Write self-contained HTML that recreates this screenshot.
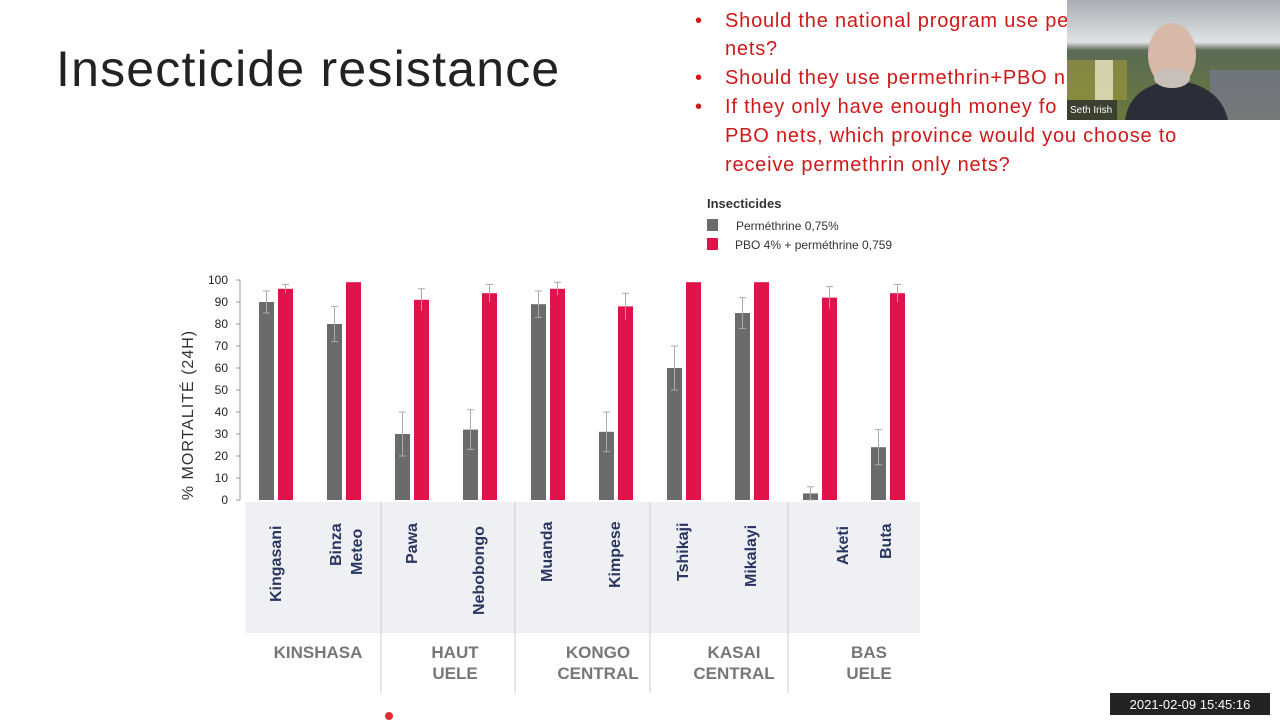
<!DOCTYPE html>
<html><head><meta charset="utf-8"><style>
html,body{margin:0;padding:0;background:#fff;width:1280px;height:720px;overflow:hidden}
svg{display:block}
</style></head><body>
<svg width="1280" height="720" xmlns="http://www.w3.org/2000/svg" font-family="Liberation Sans, sans-serif">
<rect width="1280" height="720" fill="#fff"/>
<text x="56" y="86" font-size="50" fill="#222" letter-spacing="1.2">Insecticide resistance</text>
<g fill="#d01818" font-size="20" letter-spacing="0.8">
<text x="695" y="27">•</text><text x="725" y="27">Should the national program use pe</text>
<text x="725" y="55">nets?</text>
<text x="695" y="84">•</text><text x="725" y="84">Should they use permethrin+PBO n</text>
<text x="695" y="113">•</text><text x="725" y="113">If they only have enough money fo</text>
<text x="725" y="142">PBO nets, which province would you choose to</text>
<text x="725" y="171">receive permethrin only nets?</text>
</g>
<!-- webcam -->
<defs><linearGradient id="sky" x1="0" y1="0" x2="0" y2="1"><stop offset="0" stop-color="#a8aeb4"/><stop offset="0.35" stop-color="#dfe2e4"/><stop offset="0.42" stop-color="#5b6b55"/><stop offset="1" stop-color="#6a7a3c"/></linearGradient></defs>
<rect x="1067" y="0" width="213" height="120" fill="url(#sky)"/>
<rect x="1067" y="60" width="60" height="40" fill="#a09a3a" opacity="0.6"/>
<rect x="1095" y="60" width="18" height="40" fill="#e8e4c8" opacity="0.8"/>
<rect x="1210" y="70" width="70" height="50" fill="#7a7aa0" opacity="0.6"/>
<path d="M1125 120 Q1130 85 1175 80 Q1220 85 1228 120Z" fill="#2a2e38"/>
<ellipse cx="1172" cy="55" rx="24" ry="32" fill="#d8b8a8"/>
<ellipse cx="1172" cy="78" rx="18" ry="10" fill="#c8c0b8"/>
<rect x="1067" y="100" width="50" height="20" fill="#2a2a2a" opacity="0.7"/>
<text x="1070" y="113" font-size="10" fill="#fff">Seth Irish</text>
<!-- legend -->
<text x="707" y="208" font-size="13" font-weight="bold" fill="#333">Insecticides</text>
<rect x="707" y="219" width="11" height="12" fill="#6b6b6b"/>
<text x="736" y="230" font-size="12" fill="#333">Perméthrine 0,75%</text>
<rect x="707" y="238" width="11" height="12" fill="#e0134a"/>
<text x="735" y="249" font-size="12" fill="#333">PBO 4% + perméthrine 0,759</text>
<!-- axis -->
<g font-size="12" fill="#222" text-anchor="end">
<text x="228" y="504">0</text><text x="228" y="482">10</text><text x="228" y="460">20</text><text x="228" y="438">30</text><text x="228" y="416">40</text><text x="228" y="394">50</text><text x="228" y="372">60</text><text x="228" y="350">70</text><text x="228" y="328">80</text><text x="228" y="306">90</text><text x="228" y="284">100</text>
</g>
<g stroke="#999" stroke-width="1"><line x1="240" y1="280" x2="240" y2="500"/>
<line x1="236" y1="280" x2="240" y2="280"/><line x1="236" y1="302" x2="240" y2="302"/><line x1="236" y1="324" x2="240" y2="324"/><line x1="236" y1="346" x2="240" y2="346"/><line x1="236" y1="368" x2="240" y2="368"/><line x1="236" y1="390" x2="240" y2="390"/><line x1="236" y1="412" x2="240" y2="412"/><line x1="236" y1="434" x2="240" y2="434"/><line x1="236" y1="456" x2="240" y2="456"/><line x1="236" y1="478" x2="240" y2="478"/><line x1="236" y1="500" x2="240" y2="500"/></g>
<text transform="translate(193,415) rotate(-90)" font-size="16" fill="#333" text-anchor="middle" letter-spacing="1">% MORTALITÉ (24H)</text>
<rect x="245" y="502" width="675" height="131" fill="#eef0f4"/>
<g stroke="#ccc"><line x1="381" y1="502" x2="381" y2="693"/><line x1="515" y1="502" x2="515" y2="693"/><line x1="650" y1="502" x2="650" y2="693"/><line x1="788" y1="502" x2="788" y2="693"/></g>
<g id="bars"></g>
<g fill="#2a3560" font-size="16" font-weight="bold">
<text transform="translate(281,602) rotate(-90)">Kingasani</text>
<text transform="translate(341,566) rotate(-90)">Binza</text>
<text transform="translate(362,575) rotate(-90)">Meteo</text>
<text transform="translate(417,564) rotate(-90)">Pawa</text>
<text transform="translate(484,615) rotate(-90)">Nebobongo</text>
<text transform="translate(552,582) rotate(-90)">Muanda</text>
<text transform="translate(620,588) rotate(-90)">Kimpese</text>
<text transform="translate(688,581) rotate(-90)">Tshikaji</text>
<text transform="translate(756,587) rotate(-90)">Mikalayi</text>
<text transform="translate(848,565) rotate(-90)">Aketi</text>
<text transform="translate(891,559) rotate(-90)">Buta</text>
</g>
<g fill="#777" font-size="17" font-weight="bold" text-anchor="middle">
<text x="318" y="658">KINSHASA</text>
<text x="455" y="658">HAUT</text><text x="455" y="679">UELE</text>
<text x="598" y="658">KONGO</text><text x="598" y="679">CENTRAL</text>
<text x="734" y="658">KASAI</text><text x="734" y="679">CENTRAL</text>
<text x="869" y="658">BAS</text><text x="869" y="679">UELE</text>
</g>
<circle cx="389" cy="716" r="4" fill="#e03030"/>
<rect x="1110" y="693" width="160" height="22" fill="#222"/>
<text x="1190" y="709" font-size="13" fill="#fff" text-anchor="middle">2021-02-09 15:45:16</text>
</svg>
<script>
var g=[90,80,30,32,89,31,60,85,3,24],ge=[5,8,10,9,6,9,10,7,3,8];
var r=[96,99,91,94,96,88,99,99,92,94],re=[2,0,5,4,3,6,0,0,5,4];
var s='';
function Y(v){return 500-v*2.2;}
for(var i=0;i<10;i++){var gx=259+i*68,rx=278+i*68;
s+='<rect x="'+gx+'" y="'+Y(g[i])+'" width="15" height="'+(g[i]*2.2)+'" fill="#6b6b6b"/>';
s+='<rect x="'+rx+'" y="'+Y(r[i])+'" width="15" height="'+(r[i]*2.2)+'" fill="#e0134a"/>';
if(ge[i]){s+='<path d="M'+(gx+7.5)+' '+Y(g[i]-ge[i])+'V'+Y(g[i]+ge[i])+'M'+(gx+4)+' '+Y(g[i]+ge[i])+'h7M'+(gx+4)+' '+Y(g[i]-ge[i])+'h7" stroke="#aaa" fill="none"/>';}
if(re[i]){s+='<path d="M'+(rx+7.5)+' '+Y(r[i]-re[i])+'V'+Y(r[i]+re[i])+'M'+(rx+4)+' '+Y(r[i]+re[i])+'h7" stroke="#aaa" fill="none"/>';}
}
document.getElementById('bars').innerHTML=s;
</script>
</body></html>
